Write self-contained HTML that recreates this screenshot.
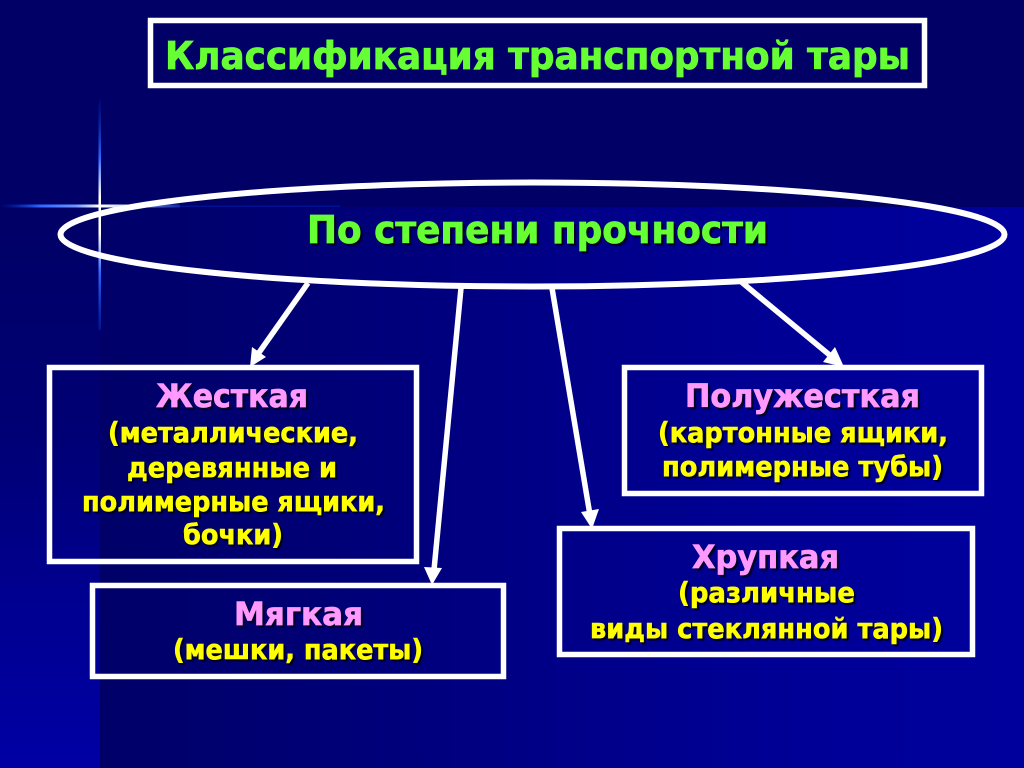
<!DOCTYPE html>
<html><head><meta charset="utf-8">
<style>
html,body{margin:0;padding:0;background:#000066;width:1024px;height:768px;overflow:hidden}
svg{display:block}
text{font-family:"DejaVu Sans","Liberation Sans",sans-serif;font-weight:bold;paint-order:stroke}
.g{fill:#66ff33;stroke:#66ff33;stroke-width:.8px}
.p{fill:#ff99ff;stroke:#ff99ff;stroke-width:.7px;font-size:32px}
.y{fill:#ffff00;stroke:#ffff00;stroke-width:.6px;font-size:28px}
.s{filter:drop-shadow(2px 2px 0.6px #00001e)}
</style></head><body>
<svg width="1024" height="768" viewBox="0 0 1024 768" xmlns="http://www.w3.org/2000/svg">
<defs>
<linearGradient id="r" x1="100" y1="0" x2="1024" y2="0" gradientUnits="userSpaceOnUse">
<stop offset="0" stop-color="#000068"/><stop offset="0.25" stop-color="#000076"/><stop offset="0.5" stop-color="#000088"/><stop offset="0.8" stop-color="#000098"/><stop offset="1" stop-color="#00009c"/>
</linearGradient>
<linearGradient id="l" x1="0" y1="207" x2="0" y2="768" gradientUnits="userSpaceOnUse">
<stop offset="0" stop-color="#000066"/><stop offset="0.4" stop-color="#000074"/><stop offset="0.7" stop-color="#000090"/><stop offset="1" stop-color="#0000a4"/>
</linearGradient>
<linearGradient id="h" x1="0" y1="0" x2="180" y2="0" gradientUnits="userSpaceOnUse">
<stop offset="0" stop-color="#0033cc" stop-opacity="0"/><stop offset="0.22" stop-color="#2a66ff"/><stop offset="0.42" stop-color="#6f96ff"/><stop offset="0.55" stop-color="#ffffff"/><stop offset="0.7" stop-color="#c8d8ff"/><stop offset="1" stop-color="#1a40d0" stop-opacity="0.6"/>
</linearGradient>
<linearGradient id="v" x1="0" y1="100" x2="0" y2="330" gradientUnits="userSpaceOnUse">
<stop offset="0" stop-color="#0022aa" stop-opacity="0.2"/><stop offset="0.25" stop-color="#2a66ff"/><stop offset="0.42" stop-color="#ffffff"/><stop offset="0.58" stop-color="#ffffff"/><stop offset="0.75" stop-color="#2a66ff"/><stop offset="1" stop-color="#0022aa" stop-opacity="0.6"/>
</linearGradient>
</defs>

<rect x="0" y="0" width="1024" height="768" fill="#000066"/>
<rect x="0" y="207" width="100" height="561" fill="url(#l)"/>
<rect x="100" y="207" width="924" height="561" fill="url(#r)"/>

<!-- sparkle -->
<rect x="180" y="205.5" width="160" height="1.5" fill="#0022bb" opacity=".5"/>
<rect x="0" y="204.5" width="180" height="3" fill="url(#h)"/>
<rect x="98.5" y="100" width="2.5" height="230" fill="url(#v)"/>

<!-- title -->
<rect x="150.5" y="20.5" width="774" height="65" fill="none" stroke="#fff" stroke-width="5.5"/>
<text x="165" y="69" class="g" font-size="38" textLength="745" lengthAdjust="spacingAndGlyphs">Классификация транспортной тары</text>

<!-- ellipse -->
<ellipse cx="532.5" cy="234.5" rx="472" ry="52" fill="none" stroke="#fff" stroke-width="6"/>
<g class="s"><text x="307" y="243" class="g" font-size="38" textLength="461" lengthAdjust="spacingAndGlyphs">По степени прочности</text></g>

<!-- boxes -->
<g fill="none" stroke="#fff" stroke-width="5.5">
<rect x="49.5" y="367.5" width="367" height="194"/>
<rect x="92.5" y="585.5" width="411" height="91"/>
<rect x="624.5" y="367.5" width="357" height="126"/>
<rect x="559.5" y="528.5" width="413" height="126"/>
</g>

<!-- arrows -->
<g stroke="#fff" stroke-width="5.5" fill="none">
<line x1="308" y1="283" x2="258" y2="354"/>
<line x1="461" y1="288" x2="434" y2="570"/>
<line x1="552" y1="288" x2="590" y2="515"/>
<line x1="739" y1="280" x2="832" y2="357"/>
</g>
<g fill="#fff">
<polygon points="250,367 252,347 266,357"/>
<polygon points="432,585 424,567 442,568"/>
<polygon points="592,529 581,512 599,509"/>
<polygon points="844,367 823,362 835,347"/>
</g>

<!-- labels -->
<g class="s">
<text x="156" y="407" class="p" textLength="152" lengthAdjust="spacingAndGlyphs">Жесткая</text>
<text x="108" y="442" class="y" textLength="250" lengthAdjust="spacingAndGlyphs">(металлические,</text>
<text x="127" y="477" class="y" textLength="210" lengthAdjust="spacingAndGlyphs">деревянные и</text>
<text x="82" y="511" class="y" textLength="303" lengthAdjust="spacingAndGlyphs">полимерные ящики,</text>
<text x="183" y="544" class="y" textLength="100" lengthAdjust="spacingAndGlyphs">бочки)</text>

<text x="234" y="625" class="p" textLength="129" lengthAdjust="spacingAndGlyphs">Мягкая</text>
<text x="173" y="659" class="y" textLength="250" lengthAdjust="spacingAndGlyphs">(мешки, пакеты)</text>

<text x="685" y="407" class="p" textLength="235" lengthAdjust="spacingAndGlyphs">Полужесткая</text>
<text x="658" y="442" class="y" textLength="290" lengthAdjust="spacingAndGlyphs">(картонные ящики,</text>
<text x="662" y="476" class="y" textLength="281" lengthAdjust="spacingAndGlyphs">полимерные тубы)</text>

<text x="692" y="568" class="p" textLength="147" lengthAdjust="spacingAndGlyphs">Хрупкая</text>
<text x="678" y="602" class="y" textLength="177" lengthAdjust="spacingAndGlyphs">(различные</text>
<text x="590" y="638" class="y" textLength="353" lengthAdjust="spacingAndGlyphs">виды стеклянной тары)</text>
</g>
</svg>
</body></html>
